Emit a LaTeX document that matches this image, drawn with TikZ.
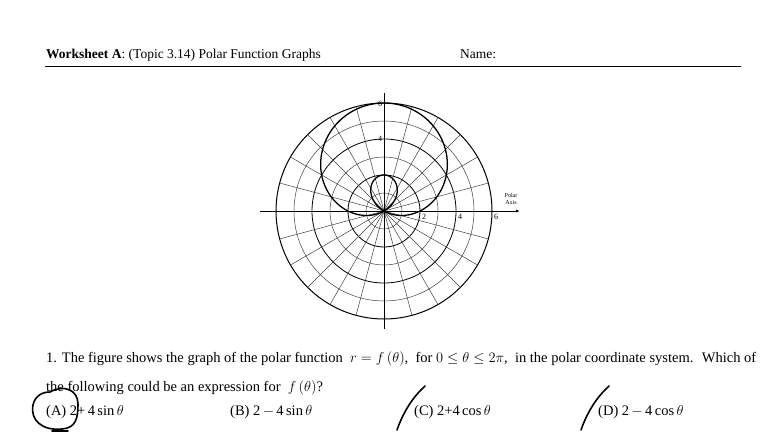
\documentclass[tikz,border=0pt]{standalone}
\usepackage{fontspec}
\setmainfont{Liberation Serif}
\usetikzlibrary{arrows.meta}
\begin{document}
\begin{tikzpicture}[x=1pt,y=-1pt,
  grid/.style={line width=0.5pt,black!75},
  curve/.style={line width=1.3pt,black},
  txt/.style={anchor=base west,inner sep=0pt,font=\fontsize{14.5}{16}\selectfont},
  pen/.style={line width=1.6pt,black,line cap=round}]
\useasboundingbox (0,0) rectangle (784,441);
% header
\node[txt,font=\fontsize{13.5}{15}\selectfont] (h1) at (46,59) {\textbf{Worksheet A}: (Topic 3.14) Polar Function Graphs};
\node[txt,font=\fontsize{13.5}{15}\selectfont] (h2) at (460,59) {Name:};
\draw[line width=0.8pt] (45,66) -- (741,66);
% grid
\begin{scope}[shift={(384,211)}]
\foreach \r in {1,3,5} \draw[grid] (0,0) circle (\r*18);
\foreach \r in {2,4} \draw[line width=0.8pt] (0,0) circle (\r*18);
\draw[line width=1pt] (0,0) circle (108);
\foreach \a in {0,15,...,345} \draw[grid] (0,0) -- (\a:108);
\draw[line width=0.8pt] (-124,0) -- (0,0) coordinate (c);
\coordinate (ax) at (136,0);
\draw[line width=0.8pt,-{Latex[length=4pt]}] (c) -- (ax);
\draw[line width=0.8pt] (0,-118) -- (0,118);
\draw[curve,domain=0:360,samples=200,smooth,variable=\t]
  plot ({(2+4*sin(\t))*cos(\t)*18},{-(2+4*sin(\t))*sin(\t)*18});
\tikzset{lab/.style={font=\fontsize{8}{8}\selectfont,inner sep=0pt}}
\node[lab] (l2) at (40,6) {2};
\node[lab] (l4) at (76,6) {4};
\node[lab] (l6) at (112,6) {6};
\node[lab] (v4) at (-4,-72) {4};
\node[lab] (v6) at (-4,-107) {6};
\node[font=\fontsize{6}{6.5}\selectfont,align=center,inner sep=0pt] (pa) at (127,-12) {Polar\\Axis};
\end{scope}
% question
\node[txt] (q1) at (46,362) {1. The figure shows the graph of the polar function \ $r=f\left(\theta\right)$, \ for $0\le\theta\le2\pi$, \ in the polar coordinate system. \ Which of};
\node[txt] (q2) at (46,391) {the following could be an expression for \ $f\left(\theta\right)$?};
\node[txt] (oa) at (46,415) {(A) 2+\,4\,sin\,$\theta$};
\node[txt] (ob) at (230,415) {(B) 2\,$-$\,4\,sin\,$\theta$};
\node[txt] (oc) at (414,415) {(C) 2+4\,cos\,$\theta$};
\node[txt] (od) at (598,415) {(D) 2\,$-$\,4\,cos\,$\theta$};
% handwriting
\draw[pen] (50,392) .. controls (64,384) and (78,390) .. (78,404) .. controls (78,418) and (76,428) .. (62,429) .. controls (42,431) and (30,420) .. (33,405) .. controls (35,396) and (42,392) .. (50,392);
\draw[pen] (52,431) -- (68,431);
\draw[pen] (397,430) .. controls (404,410) and (414,396) .. (425,386);
\draw[pen] (581,430) .. controls (588,410) and (598,396) .. (609,386);
\end{tikzpicture}
\end{document}
